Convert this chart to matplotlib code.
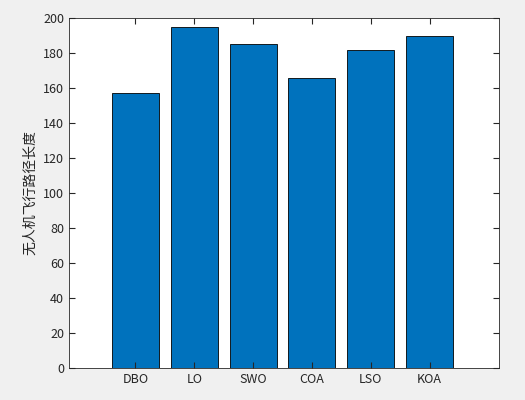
import matplotlib.pyplot as plt
import numpy as np

plt.rcParams['font.family'] = ['Noto Sans CJK SC', 'DejaVu Sans']

algorithms = ['DBO', 'LO', 'SWO', 'COA', 'LSO', 'KOA']
path_length = [157, 195, 185, 166, 182, 190]

fig = plt.figure(figsize=(5.25, 4.0), dpi=100, facecolor='#f0f0f0')
ax = fig.add_axes([69 / 525, 32 / 400, 430 / 525, 350 / 400])
x = np.arange(1, len(algorithms) + 1)
ax.bar(x, path_length, width=0.8, color='#0072BD', edgecolor='black', linewidth=0.6)
ax.set_xticks(x)
ax.set_xticklabels(algorithms)
ax.set_xlim(-0.13, 7.18)
ax.set_ylim(0, 200)
ax.set_yticks(range(0, 201, 20))
ax.set_ylabel('无人机飞行路径长度', fontsize=10, color='#262626')
ax.tick_params(labelsize=9, colors='#262626', direction='in', length=4)
for s in ax.spines.values():
    s.set_color('#262626')
    s.set_linewidth(0.6)
ax.tick_params(top=True, right=True)
fig.savefig('out.png', dpi=100, facecolor=fig.get_facecolor())
